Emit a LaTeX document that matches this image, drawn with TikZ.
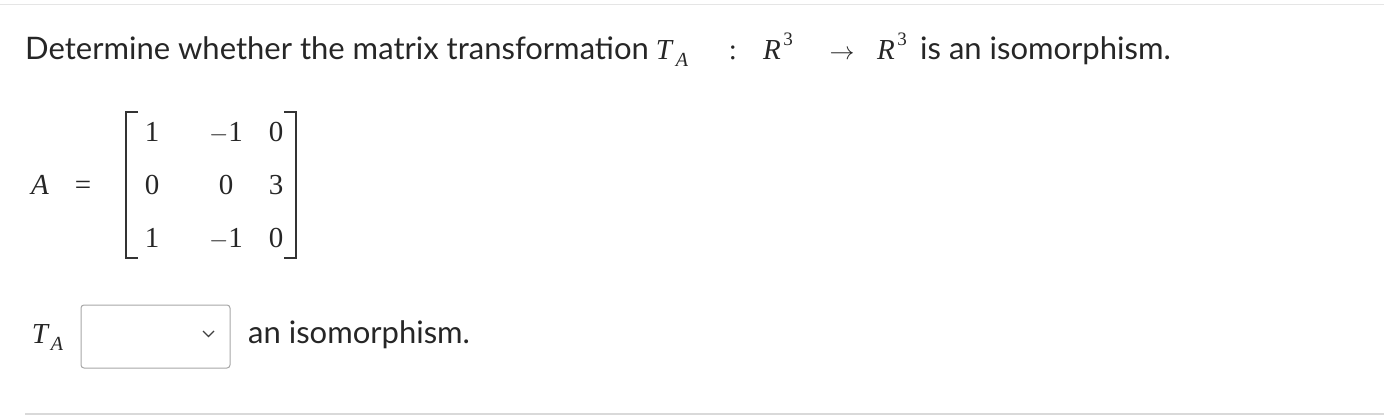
\documentclass[tikz,border=0pt]{standalone}
\usepackage{fontspec}
\setmainfont{Lato}
\newfontfamily\mf{Liberation Serif}
\begin{document}
\begin{tikzpicture}[x=1pt,y=1pt,
  txt/.style={anchor=base west,inner sep=0pt,font=\fontsize{29}{34}\selectfont,text=black!85},
  mth/.style={anchor=base,inner sep=0pt,font=\fontsize{29}{34}\selectfont\mf,text=black!85},
  br/.style={line width=1.3pt,black!80}]
\useasboundingbox (0,0) rectangle (1384,418);
\draw[black!10,line width=1pt] (0,413) -- (1384,413);
\draw[black!15,line width=1.5pt] (25,4) -- (1384,4);
% header
\node[txt,font=\fontsize{31}{36}\selectfont] (h1) at (25,358) {Determine whether the matrix transformation};
\node[mth] (t1) at (664,358) {\itshape T};
\node[mth,font=\fontsize{20}{24}\selectfont\mf\itshape] (t1s) at (682,351) {A};
\node[mth] (c1) at (733,358) {:};
\node[mth] (r1) at (772,358) {\itshape R};
\node[mth,font=\fontsize{19}{22}\selectfont\mf] (r1s) at (788,372) {3};
\node[mth] (ar) at (842,358) {$\rightarrow$};
\node[mth] (r2) at (886,358) {\itshape R};
\node[mth,font=\fontsize{19}{22}\selectfont\mf] (r2s) at (902,372) {3};
\node[txt,font=\fontsize{31}{36}\selectfont] (h2) at (920,358) {is an isomorphism.};
% matrix
\node[mth] (A) at (40,223) {\itshape A};
\node[mth] (eq) at (83,223) {=};
\draw[br] (138,306) -- (126,306) -- (126,160) -- (138,160);
\draw[br] (284,306) -- (296,306) -- (296,160) -- (284,160);
\node[mth] (m11) at (152,276) {1};
\node[mth] (m12) at (226,276) {$-$1};
\node[mth] (m13) at (276,276) {0};
\node[mth] (m21) at (152,223) {0};
\node[mth] (m22) at (226,223) {0};
\node[mth] (m23) at (276,223) {3};
\node[mth] (m31) at (152,170) {1};
\node[mth] (m32) at (226,170) {$-$1};
\node[mth] (m33) at (276,170) {0};
% answer row
\node[mth] (t2) at (40,75) {\itshape T};
\node[mth,font=\fontsize{20}{24}\selectfont\mf\itshape] (t2s) at (57,68) {A};
\draw[black!35,line width=1pt,rounded corners=3pt] (81,50) rectangle (230,113);
\draw[black!75,line width=1.2pt] (203,87) -- (208.5,81.5) -- (214,87);
\node[txt,font=\fontsize{31}{36}\selectfont] (h3) at (248,75) {an isomorphism.};
\end{tikzpicture}
\end{document}
